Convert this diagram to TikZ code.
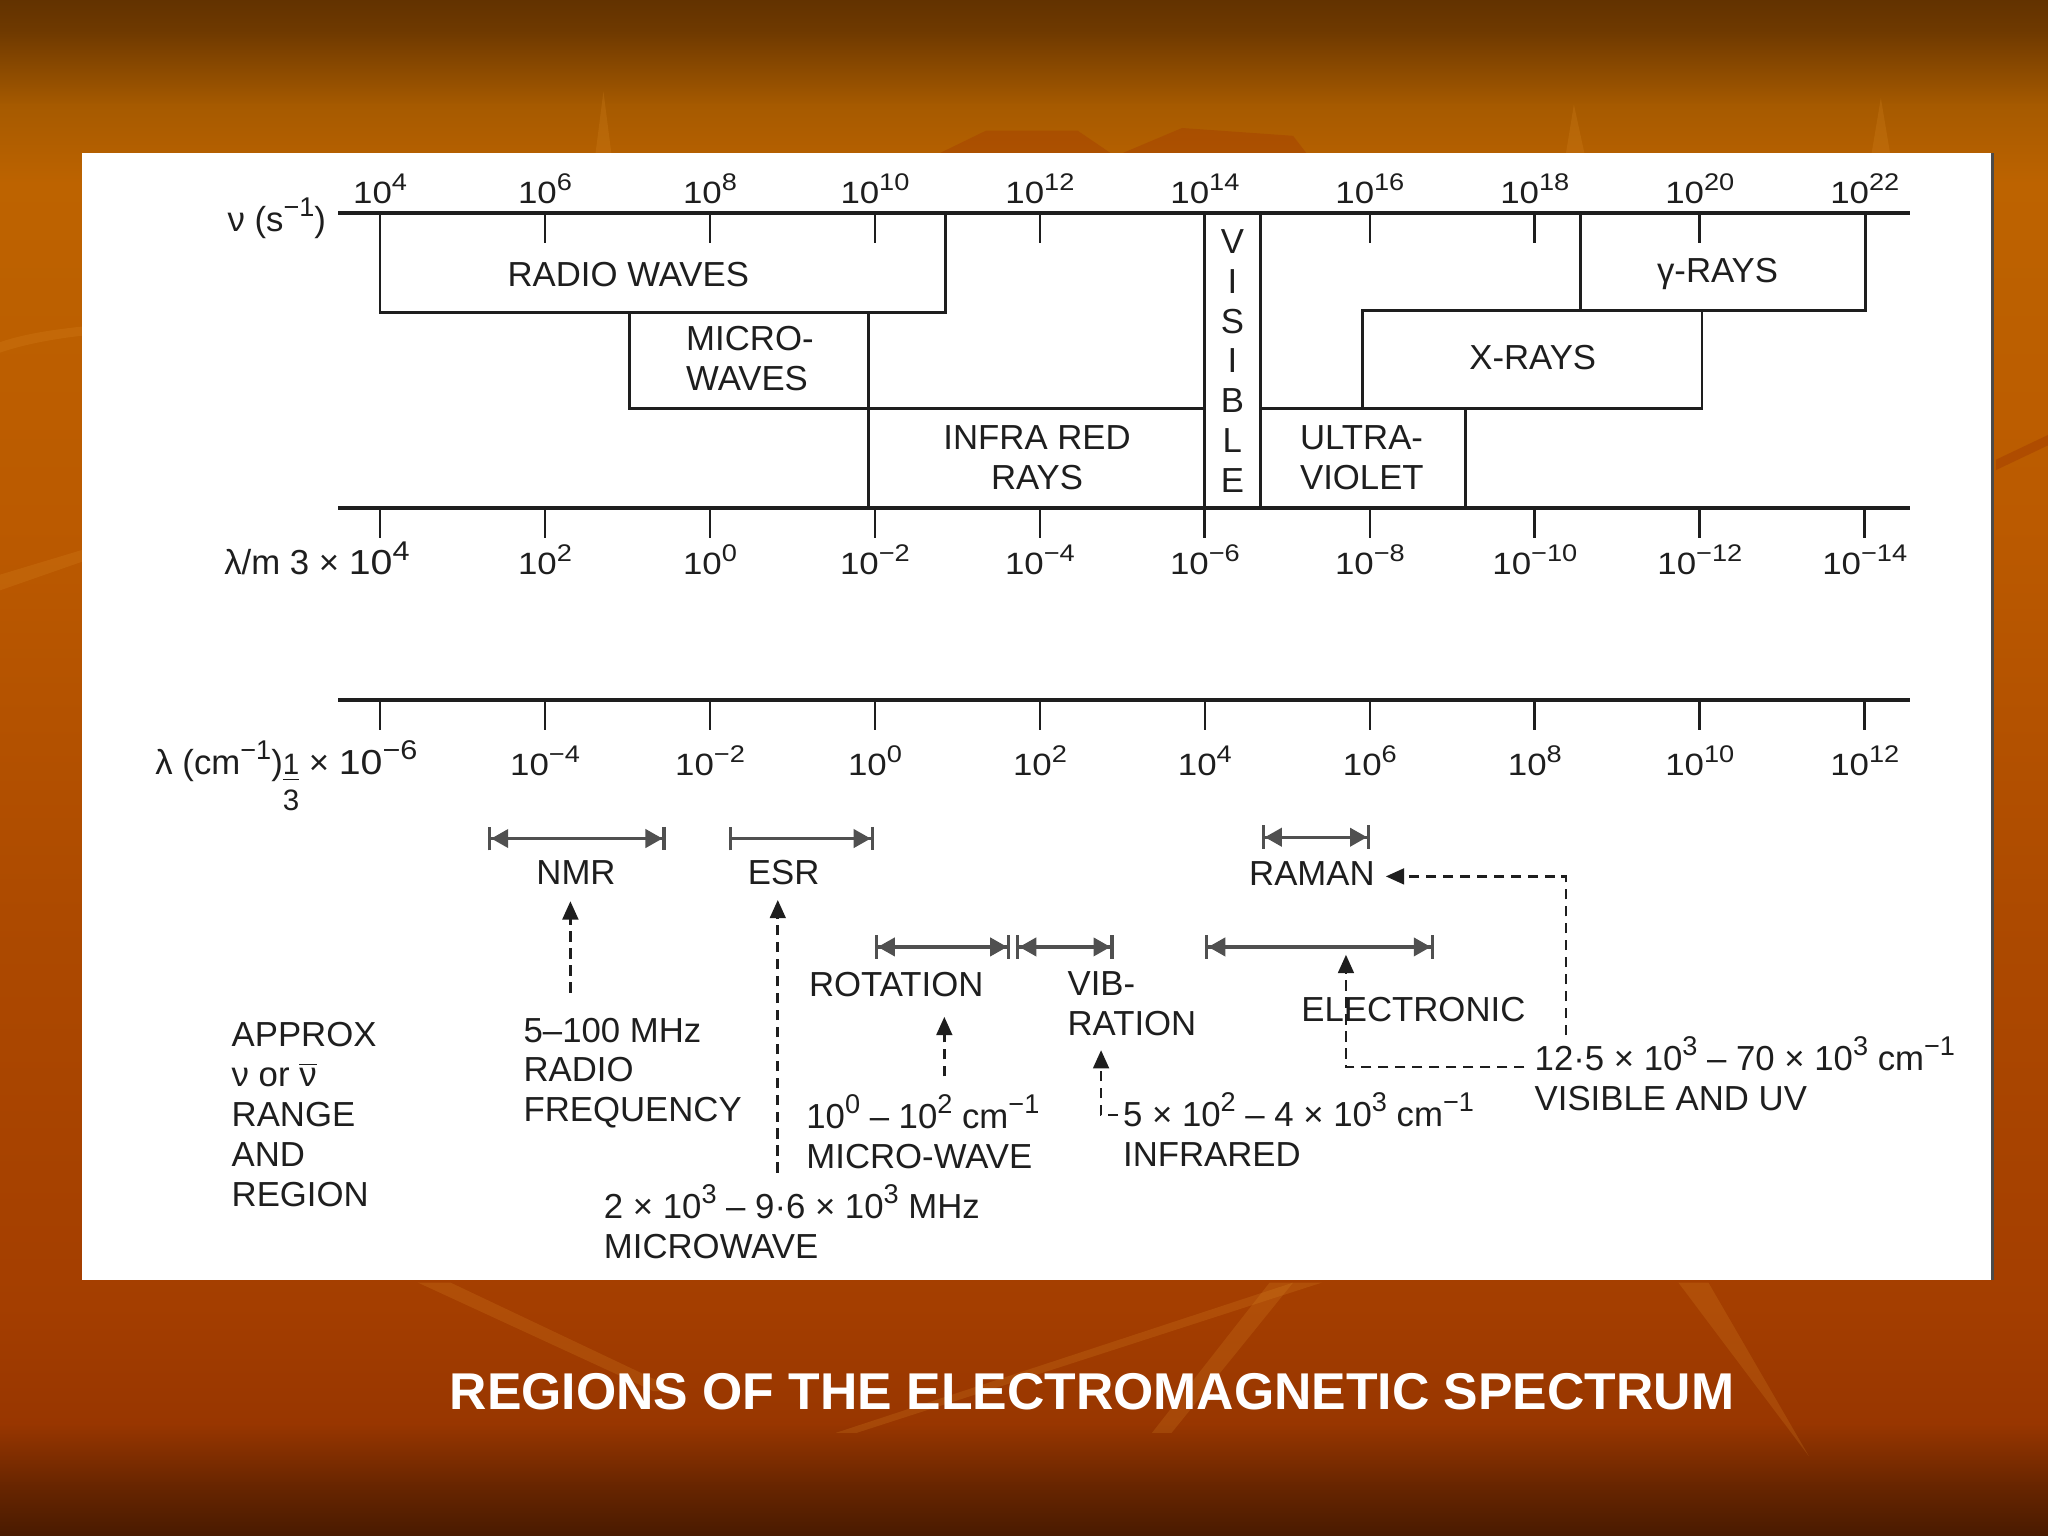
\documentclass[tikz,border=0pt]{standalone}
\usepackage{fontspec}
\setmainfont{Liberation Sans}
\usepackage{graphicx}
\usetikzlibrary{arrows.meta}
\definecolor{ink}{HTML}{1E1E1E}
\definecolor{rngc}{HTML}{505050}
\definecolor{bgA}{HTML}{623200}
\definecolor{bgB}{HTML}{703A00}
\definecolor{bgC}{HTML}{A65A00}
\definecolor{bgD}{HTML}{BD6300}
\definecolor{bgE}{HTML}{BB5A00}
\definecolor{bgF}{HTML}{AD4A00}
\definecolor{bgG}{HTML}{A43E00}
\definecolor{bgH}{HTML}{983600}
\definecolor{bgI}{HTML}{6A2600}
\definecolor{bgJ}{HTML}{481A00}
\definecolor{streak}{HTML}{E0902A}
\newcommand\labfont{\fontsize{13.3pt}{15.3pt}\selectfont}
\newcommand\tkfont{\fontsize{11.8pt}{14pt}\selectfont}
\newcommand\ttlfont{\fontsize{19.8pt}{22pt}\selectfont\bfseries}
\newcommand\sups[1]{\raisebox{0.42em}{\scalebox{0.78}{#1}}}
\newcommand\tenp[1]{10\sups{#1}}
\newcommand\tkl[1]{\scalebox{1.13}[1]{#1}}
\newcommand\onethird{\begin{tabular}[t]{@{}c@{}}\scalebox{0.85}{1}\\[-3pt]\hline\noalign{\vskip1pt}\scalebox{0.85}{3}\end{tabular}}
\tikzset{
  axisline/.style={line width=1.5pt, draw=ink},
  tickline/.style={line width=1.05pt, draw=ink},
  boxline/.style={line width=1.05pt, draw=ink},
  lab/.style={font=\labfont, inner sep=0pt, text=ink, align=left, anchor=base west},
  tk/.style={font=\tkfont, inner sep=0pt, text=ink, anchor=base},
  rng/.style={draw=rngc, line width=1.2pt, {Bar[width=9pt]Triangle[length=6.5pt,width=7pt]}-{Triangle[length=6.5pt,width=7pt]Bar[width=9pt]}},
  dsharrow/.style={draw=ink, line width=1.05pt, dash pattern=on 4pt off 2.5pt, -{Triangle[length=7pt,width=6pt]}},
  streakfill/.style={fill=streak, opacity=0.2}
}
\begin{document}
\begin{tikzpicture}[x=0.5pt,y=-0.5pt]
\useasboundingbox (0,0) rectangle (1568,1176);
% background
\shade[top color=bgA, bottom color=bgB] (0,-1) rectangle (1568,26);
\shade[top color=bgB, bottom color=bgC] (0,25) rectangle (1568,81);
\shade[top color=bgC, bottom color=bgD] (0,80) rectangle (1568,141);
\shade[top color=bgD, bottom color=bgE] (0,140) rectangle (1568,401);
\shade[top color=bgE, bottom color=bgF] (0,400) rectangle (1568,701);
\shade[top color=bgF, bottom color=bgG] (0,700) rectangle (1568,1001);
\shade[top color=bgG, bottom color=bgH] (0,1000) rectangle (1568,1091);
\shade[top color=bgH, bottom color=bgI] (0,1090) rectangle (1568,1136);
\shade[top color=bgI, bottom color=bgJ] (0,1135) rectangle (1568,1177);
% faint streaks
\fill[streakfill] (462,70) -- (468,117) -- (456,117) -- cycle;
\fill[streakfill] (1205,80) -- (1213,117) -- (1199,117) -- cycle;
\fill[streakfill] (1440,75) -- (1447,117) -- (1433,117) -- cycle;
\fill[bgG, opacity=0.45] (720,117) -- (755,100) -- (825,100) -- (850,117) -- cycle;
\fill[bgG, opacity=0.45] (860,117) -- (905,98) -- (990,104) -- (1000,117) -- cycle;
\fill[streakfill] (640,1097) -- (990,982) -- (1012,982) -- (656,1097) -- cycle;
\fill[streakfill] (882,1097) -- (972,982) -- (990,982) -- (897,1097) -- cycle;
\fill[streakfill] (1385,1115) -- (1285,982) -- (1308,982) -- cycle;
\fill[streakfill] (320,982) -- (500,1065) -- (520,1065) -- (345,982) -- cycle;
\fill[streakfill] (0,262) .. controls (20,255) and (45,252) .. (63,250) -- (63,257) .. controls (45,259) and (20,263) .. (0,270) -- cycle;
\fill[streakfill] (0,440) -- (63,421) -- (63,430) -- (0,452) -- cycle;
\fill[bgG, opacity=0.5] (1528,352) -- (1568,333) -- (1568,341) -- (1528,360) -- cycle;
% white panel
\fill[white] (63,117) rectangle (1526,980);
\draw[line width=1.3pt, draw=ink!80] (1525.5,117) -- (1525.5,980);

% region boxes
\draw[boxline] (291,163) -- (291,239) -- (724,239) -- (724,163);
\draw[boxline] (482,239) -- (482,313) -- (665,313);
\draw[boxline] (665,239) -- (665,389);
\draw[boxline] (665,313) -- (922,313);
\draw[boxline] (922,163) -- (922,412);
\draw[boxline] (965,163) -- (965,389);
\draw[boxline] (965,313) -- (1303,313) -- (1303,238);
\draw[boxline] (1122,313) -- (1122,389);
\draw[boxline] (1043,313) -- (1043,238) -- (1428,238) -- (1428,163);
\draw[boxline] (1210,163) -- (1210,238);

% axes
\coordinate (topL) at (259,163); \coordinate (topR) at (1462,163);
\coordinate (midL) at (259,389); \coordinate (midR) at (1462,389);
\coordinate (botL) at (259,536); \coordinate (botR) at (1462,536);
\draw[axisline] (topL) -- (topR);
\draw[axisline] (midL) -- (midR);
\draw[axisline] (botL) -- (botR);
\foreach \i in {1,2,3,4,6,7,8} {
  \coordinate (tt\i) at ({291+126.3*\i},163);
  \draw[tickline] (tt\i) -- ++(0,23);
}
\foreach \i in {0,...,9} {
  \coordinate (mt\i) at ({291+126.3*\i},389);
  \draw[tickline] (mt\i) -- ++(0,23);
  \coordinate (bt\i) at ({291+126.3*\i},536);
  \draw[tickline] (bt\i) -- ++(0,23);
}
% tick labels
\foreach \i in {0,...,9} {
  \pgfmathtruncatemacro\e{4+2*\i}
  \node[tk] (tl\i) at ({291+126.3*\i},156) {\tkl{\tenp{\e}}};
}
\foreach \i/\e in {1/2,2/0,3/−2,4/−4,5/−6,6/−8,7/−10,8/−12,9/−14} {
  \node[tk] (ml\i) at ({291+126.3*\i},440) {\tkl{\tenp{\e}}};
}
\foreach \i/\e in {1/−4,2/−2,3/0,4/2,5/4,6/6,7/8,8/10,9/12} {
  \node[tk] (bl\i) at ({291+126.3*\i},594) {\tkl{\tenp{\e}}};
}
\node[lab, anchor=base east] (nulab) at (250,177) {ν (s\sups{−1})};
\node[lab, anchor=base east] (lmlab) at (314,440) {λ/m 3 × \tkl{\tenp{4}}};
\node[lab, anchor=base east] (cmlab) at (320,593) {λ (cm\sups{−1})\onethird{} × \tkl{\tenp{−6}}};

% region labels (multi-line nodes: base = last line)
\node[lab, anchor=base] (radio) at (481,219.5) {RADIO WAVES};
\node[lab] (micro) at (525,299) {MICRO-\\WAVES};
\node[lab, align=center, anchor=base] (infra) at (794,375) {INFRA RED\\RAYS};
\foreach \k/\c in {0/V,1/I,2/S,3/I,4/B,5/L,6/E} {
  \node[lab, anchor=base] (vis\k) at (943.5,{194+30.5*\k}) {\c};
}
\node[lab] (uv) at (995,375) {ULTRA-\\VIOLET};
\node[lab, anchor=base] (xray) at (1173.5,283) {X-RAYS};
\node[lab, anchor=base] (gamma) at (1315,216) {γ-RAYS};

% spectroscopy ranges
\coordinate (nmrA) at (373.7,642); \coordinate (nmrB) at (509.6,642);
\coordinate (esrA) at (558,642); \coordinate (esrB) at (669,642);
\coordinate (ramA) at (966,641); \coordinate (ramB) at (1049,641);
\coordinate (rotA) at (669.7,725); \coordinate (rotB) at (773.5,725);
\coordinate (vibA) at (778,725); \coordinate (vibB) at (852.6,725);
\coordinate (eleA) at (922.7,725); \coordinate (eleB) at (1097.8,725);
\draw[rng] (nmrA) -- (nmrB);
\draw[rng, {Bar[width=9pt]}-{Triangle[length=6.5pt,width=7pt]Bar[width=9pt]}] (esrA) -- (esrB);
\draw[rng] (ramA) -- (ramB);
\draw[rng] (rotA) -- (rotB);
\draw[rng] (vibA) -- (vibB);
\draw[rng] (eleA) -- (eleB);

\node[lab, anchor=base] (nmr) at (441,677) {NMR};
\node[lab, anchor=base] (esr) at (600,677) {ESR};
\node[lab] (raman) at (956,678) {RAMAN};
\node[lab] (rot) at (619,763) {ROTATION};
\node[lab] (vib) at (817,792.5) {VIB-\\RATION};
\node[lab] (elec) at (996,782) {ELECTRONIC};

% range annotations
\node[lab] (approx) at (177,924) {APPROX\\ν or $\overline{\mbox{ν}}$\\RANGE\\AND\\REGION};
\node[lab] (rf) at (400.5,859) {5–100 MHz\\RADIO\\FREQUENCY};
\node[lab] (mwf) at (462,963.5) {2 × \tenp{3} – 9·6 × \tenp{3} MHz\\MICROWAVE};
\node[lab] (mwn) at (617,894.6) {\tenp{0} – \tenp{2} cm\sups{−1}\\MICRO-WAVE};
\node[lab] (irn) at (859.5,893) {5 × \tenp{2} – 4 × \tenp{3} cm\sups{−1}\\INFRARED};
\node[lab] (uvn) at (1174.6,850) {12·5 × \tenp{3} – 70 × \tenp{3} cm\sups{−1}\\VISIBLE AND UV};

% dashed connectors
\coordinate (nmrS) at (436.7,760); \coordinate (nmrT) at (436.7,690);
\coordinate (esrS) at (595.5,898); \coordinate (esrT) at (595.5,689);
\coordinate (rotS) at (723,824); \coordinate (rotT) at (723,778.5);
\coordinate (vibS) at (856,853.7); \coordinate (vibC) at (843,853.7); \coordinate (vibT) at (843,804);
\coordinate (eleS) at (1167,817); \coordinate (eleC) at (1030.5,817); \coordinate (eleT) at (1030.5,731);
\coordinate (ramS) at (1199,792.5); \coordinate (ramC) at (1199,671); \coordinate (ramT) at (1061,671);
\draw[dsharrow] (nmrS) -- (nmrT);
\draw[dsharrow] (esrS) -- (esrT);
\draw[dsharrow] (rotS) -- (rotT);
\draw[dsharrow] (vibS) -- (vibC) -- (vibT);
\draw[dsharrow] (eleS) -- (eleC) -- (eleT);
\draw[dsharrow] (ramS) -- (ramC) -- (ramT);

% title
\node[font=\ttlfont, text=white, inner sep=0pt, anchor=base] (title) at (836,1079) {REGIONS OF THE ELECTROMAGNETIC SPECTRUM};
\end{tikzpicture}
\end{document}
